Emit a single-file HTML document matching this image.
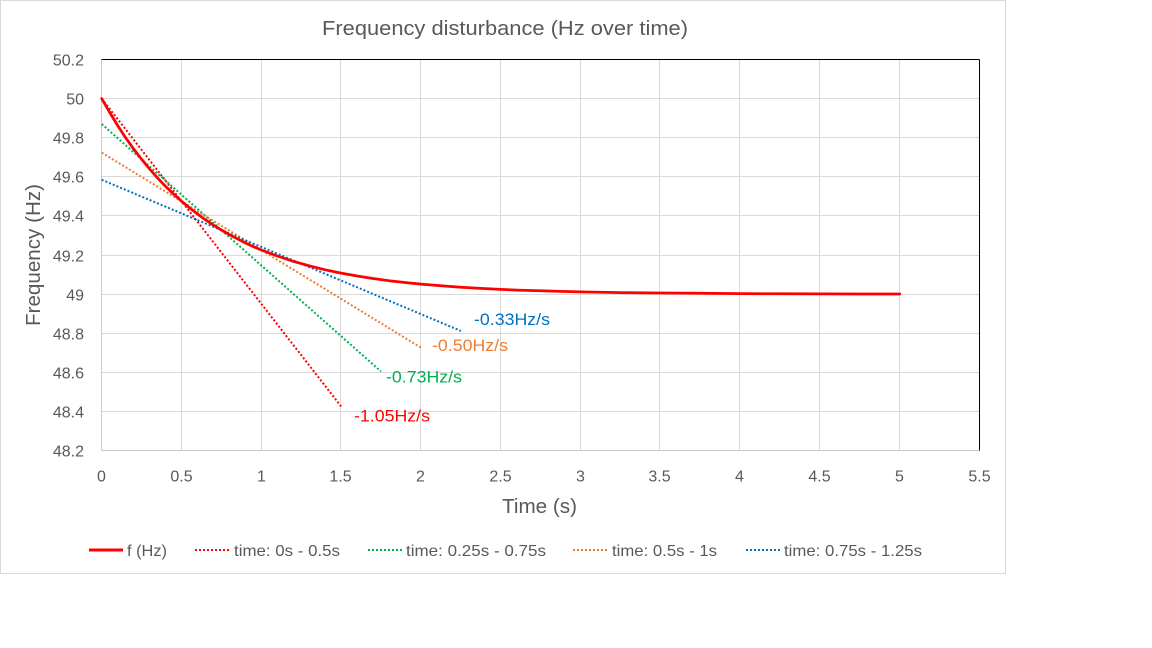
<!DOCTYPE html>
<html>
<head>
<meta charset="utf-8">
<style>
  html, body { margin:0; padding:0; background:#ffffff; }
  svg { display:block; }
  text { font-family: "Liberation Sans", "DejaVu Sans", sans-serif; fill:#595959; }
</style>
</head>
<body>
<svg width="1152" height="648" viewBox="0 0 1152 648" xmlns="http://www.w3.org/2000/svg">
  <rect x="0" y="0" width="1152" height="648" fill="#ffffff"/>
  <!-- chart border -->
  <rect x="0.5" y="0.5" width="1005" height="573" fill="#ffffff" stroke="#d9d9d9" stroke-width="1"/>

  <!-- title -->
  <text x="322" y="35" font-size="20" textLength="366" lengthAdjust="spacingAndGlyphs">Frequency disturbance (Hz over time)</text>

  <!-- gridlines vertical -->
  <g stroke="#d9d9d9" stroke-width="1">
    <line x1="181.5" y1="59.5" x2="181.5" y2="450.5"/>
    <line x1="261.5" y1="59.5" x2="261.5" y2="450.5"/>
    <line x1="340.5" y1="59.5" x2="340.5" y2="450.5"/>
    <line x1="420.5" y1="59.5" x2="420.5" y2="450.5"/>
    <line x1="500.5" y1="59.5" x2="500.5" y2="450.5"/>
    <line x1="580.5" y1="59.5" x2="580.5" y2="450.5"/>
    <line x1="659.5" y1="59.5" x2="659.5" y2="450.5"/>
    <line x1="739.5" y1="59.5" x2="739.5" y2="450.5"/>
    <line x1="819.5" y1="59.5" x2="819.5" y2="450.5"/>
    <line x1="899.5" y1="59.5" x2="899.5" y2="450.5"/>
    <!-- horizontal -->
    <line x1="101.5" y1="98.5" x2="979.5" y2="98.5"/>
    <line x1="101.5" y1="137.5" x2="979.5" y2="137.5"/>
    <line x1="101.5" y1="176.5" x2="979.5" y2="176.5"/>
    <line x1="101.5" y1="215.5" x2="979.5" y2="215.5"/>
    <line x1="101.5" y1="255.5" x2="979.5" y2="255.5"/>
    <line x1="101.5" y1="294.5" x2="979.5" y2="294.5"/>
    <line x1="101.5" y1="333.5" x2="979.5" y2="333.5"/>
    <line x1="101.5" y1="372.5" x2="979.5" y2="372.5"/>
    <line x1="101.5" y1="411.5" x2="979.5" y2="411.5"/>
  </g>
  <!-- axes -->
  <line x1="101.5" y1="59.5" x2="101.5" y2="450.5" stroke="#c9c9c9" stroke-width="1"/>
  <line x1="101.5" y1="450.5" x2="979.5" y2="450.5" stroke="#c9c9c9" stroke-width="1"/>
  <!-- top and right border (black) -->
  <line x1="101.5" y1="59.5" x2="979.5" y2="59.5" stroke="#000000" stroke-width="1"/>
  <line x1="979.5" y1="59.5" x2="979.5" y2="450.5" stroke="#000000" stroke-width="1"/>

  <!-- y tick labels -->
  <g font-size="16" text-anchor="end">
    <text x="84" y="65.3">50.2</text>
    <text x="84" y="104.3">50</text>
    <text x="84" y="143.3">49.8</text>
    <text x="84" y="182.3">49.6</text>
    <text x="84" y="221.3">49.4</text>
    <text x="84" y="261.3">49.2</text>
    <text x="84" y="300.3">49</text>
    <text x="84" y="339.3">48.8</text>
    <text x="84" y="378.3">48.6</text>
    <text x="84" y="417.3">48.4</text>
    <text x="84" y="456.3">48.2</text>
  </g>
  <!-- x tick labels -->
  <g font-size="16" text-anchor="middle">
    <text x="101.5" y="481.5">0</text>
    <text x="181.5" y="481.5">0.5</text>
    <text x="261.5" y="481.5">1</text>
    <text x="340.5" y="481.5">1.5</text>
    <text x="420.5" y="481.5">2</text>
    <text x="500.5" y="481.5">2.5</text>
    <text x="580.5" y="481.5">3</text>
    <text x="659.5" y="481.5">3.5</text>
    <text x="739.5" y="481.5">4</text>
    <text x="819.5" y="481.5">4.5</text>
    <text x="899.5" y="481.5">5</text>
    <text x="979.5" y="481.5">5.5</text>
  </g>

  <!-- axis titles -->
  <text x="502" y="513" font-size="20" textLength="75" lengthAdjust="spacingAndGlyphs">Time (s)</text>
  <text transform="translate(40,326) rotate(-90)" x="0" y="0" font-size="20" textLength="142" lengthAdjust="spacingAndGlyphs">Frequency (Hz)</text>

  <!-- secant / trend lines (dotted) -->
  <g stroke-width="2" stroke-dasharray="2 2" fill="none">
    <line x1="101.7" y1="98.6" x2="341.1" y2="406.4" stroke="#ff0000"/>
    <line x1="101.7" y1="124.0" x2="381.0" y2="371.5" stroke="#00b050"/>
    <line x1="101.7" y1="152.6" x2="420.9" y2="347.6" stroke="#ed7d31"/>
    <line x1="101.7" y1="179.8" x2="460.8" y2="330.9" stroke="#0070c0"/>
  </g>

  <!-- main curve -->
  <polyline fill="none" stroke="#ff0000" stroke-width="2.75" stroke-linejoin="round" stroke-linecap="round"
    points="101.7,98.6 109.7,112.4 117.7,125.6 125.6,137.7 133.6,148.9 141.6,159.3 149.6,169.0 157.5,177.9 165.5,186.3 173.5,194.0 181.5,201.2 189.5,207.8 197.5,214.0 205.4,219.7 213.4,225.1 221.4,230.0 229.4,234.6 237.4,238.8 245.3,242.9 253.3,246.6 261.3,250.0 277.3,256.0 293.2,261.3 309.2,265.8 325.1,269.8 341.1,273.1 357.1,276.0 373.0,278.5 389.0,280.7 405.0,282.5 420.9,284.1 440.9,285.7 460.8,287.2 480.8,288.4 500.7,289.4 520.6,290.2 540.6,290.8 560.6,291.4 580.5,291.9 620.4,292.6 660.3,293.0 700.2,293.3 740.1,293.6 780.0,293.8 819.9,293.9 859.8,294.0 899.7,294.0"/>

  <!-- annotations -->
  <text x="354" y="421.5" font-size="17" fill="#ff0000" style="fill:#ff0000" textLength="76" lengthAdjust="spacingAndGlyphs">-1.05Hz/s</text>
  <text x="386" y="382.5" font-size="17" style="fill:#00b050" textLength="76" lengthAdjust="spacingAndGlyphs">-0.73Hz/s</text>
  <text x="432" y="351" font-size="17" style="fill:#ed7d31" textLength="76" lengthAdjust="spacingAndGlyphs">-0.50Hz/s</text>
  <text x="474" y="325" font-size="17" style="fill:#0070c0" textLength="76" lengthAdjust="spacingAndGlyphs">-0.33Hz/s</text>

  <!-- legend -->
  <line x1="89" y1="550" x2="123" y2="550" stroke="#ff0000" stroke-width="3"/>
  <text x="127" y="556" font-size="16" textLength="40" lengthAdjust="spacingAndGlyphs">f (Hz)</text>

  <line x1="195" y1="550" x2="229" y2="550" stroke="#ff0000" stroke-width="2" stroke-dasharray="2 2"/>
  <text x="234" y="556" font-size="16" textLength="106" lengthAdjust="spacingAndGlyphs">time: 0s - 0.5s</text>

  <line x1="368" y1="550" x2="402" y2="550" stroke="#00b050" stroke-width="2" stroke-dasharray="2 2"/>
  <text x="406" y="556" font-size="16" textLength="140" lengthAdjust="spacingAndGlyphs">time: 0.25s - 0.75s</text>

  <line x1="573" y1="550" x2="607" y2="550" stroke="#ed7d31" stroke-width="2" stroke-dasharray="2 2"/>
  <text x="612" y="556" font-size="16" textLength="105" lengthAdjust="spacingAndGlyphs">time: 0.5s - 1s</text>

  <line x1="746" y1="550" x2="780" y2="550" stroke="#0070c0" stroke-width="2" stroke-dasharray="2 2"/>
  <text x="784" y="556" font-size="16" textLength="138" lengthAdjust="spacingAndGlyphs">time: 0.75s - 1.25s</text>
</svg>
</body>
</html>
